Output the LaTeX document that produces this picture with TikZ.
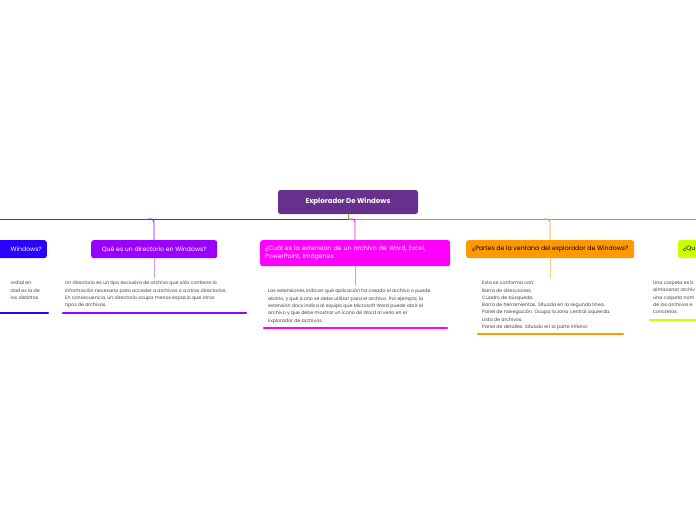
\documentclass[tikz,border=0pt]{standalone}
\usepackage{fontspec}
\setmainfont{Poppins}
\begin{document}
\begin{tikzpicture}[x=1pt,y=-1pt,
  hdr/.style={rounded corners=2.5pt,text=white,font=\fontsize{6.2}{8}\selectfont,inner xsep=5pt,anchor=north west,align=left},
  note/.style={anchor=north west,align=left,font=\fontsize{4.7}{7.3}\selectfont,text=black!75,inner sep=0pt},
  uline/.style={line width=2.2pt,line cap=round}]
\definecolor{cRoot}{HTML}{66308C}
\definecolor{cB}{HTML}{2A00FF}
\definecolor{cP}{HTML}{9900FF}
\definecolor{cM}{HTML}{FF00FF}
\definecolor{cO}{HTML}{FF9900}
\definecolor{cL}{HTML}{CCFF00}
\definecolor{cG}{HTML}{55E000}
\useasboundingbox (0,0) rectangle (696,520);
\clip (0,0) rectangle (696,520);
\node[hdr,fill=cRoot,minimum width=140pt,minimum height=24pt,anchor=center,font=\bfseries\fontsize{7}{8}\selectfont] (root) at (348,202) {Explorador De Windows};
\coordinate (hub) at (348,219);
\draw[cG,line width=1pt] (root.south) -- (hub) -- (696,219);
\draw[cP,line width=1pt] (hub) -- (0,219);
% branch 1
\node[hdr,fill=cB,minimum height=18pt,text width=80pt,anchor=north east,align=right] (b1) at (47,240) {Windows?};
\node[note,anchor=north east,align=left] (n1) at (40,281) {ordial en\\dad es la de\\ los distintos};
\draw[uline,cB] (-5,313) -- (48,313);
% branch 2
\draw[cP,line width=0.9pt,rounded corners=3pt] (148,219) -- (154,219) -- (154,240);
\node[hdr,fill=cP,minimum height=18pt,minimum width=126pt,align=center] (b2) at (91,240) {Qué es un directorio en Windows?};
\draw[cP!40,line width=0.9pt] (154,258) -- (154,278);
\node[note] (n2) at (65,281) {Un directorio es un tipo exclusivo de archivo que sólo contiene la\\información necesaria para acceder a archivos o a otros directorios.\\En consecuencia, un directorio ocupa menos espacio que otros\\tipos de archivos.};
\draw[uline,cP] (63,313) -- (246,313);
% branch 3
\draw[cM,line width=0.9pt,rounded corners=3pt] (348,219) -- (355,219) -- (355,240);
\node[hdr,fill=cM,minimum height=26pt,text width=180pt] (b3) at (260,240) {¿Cuál es la extensión de un archivo de Word, Excel,\\PowerPoint, Imágenes};
\draw[cM!50,line width=0.9pt] (355,266) -- (355,286);
\node[note] (n3) at (268,289) {Las extensiones indican qué aplicación ha creado el archivo o puede\\abrirlo, y qué icono se debe utilizar para el archivo. Por ejemplo, la\\extensión docx indica al equipo que Microsoft Word puede abrir el\\archivo y que debe mostrar un icono de Word al verlo en el\\Explorador de archivos.};
\draw[uline,cM] (264,328) -- (447,328);
% branch 4
\draw[cO,line width=0.9pt,rounded corners=3pt] (544,219) -- (550,219) -- (550,240);
\node[hdr,fill=cO,text=black,minimum height=18pt,minimum width=168pt,align=center] (b4) at (466,240) {¿Partes de la ventana del explorador de Windows?};
\draw[cO!50,line width=0.9pt] (550,258) -- (550,278);
\node[note] (n4) at (482,281) {Esta se conforma con:\\Barra de direcciones.\\Cuadro de búsqueda.\\Barra de herramientas. Situada en la segunda línea.\\Panel de navegación. Ocupa la zona central izquierda.\\Lista de archivos.\\Panel de detalles. Situado en la parte inferior.};
\draw[uline,cO] (478,334) -- (623,334);
% branch 5
\draw[cG,line width=0.9pt,rounded corners=3pt] (700,219) -- (700,240);
\fill[cL,rounded corners=2.5pt] (678,240) rectangle (720,258);
\node[anchor=west,inner sep=0pt,font=\fontsize{6.2}{8}\selectfont] (b5) at (683,249) {¿Qu};
\node[note] (n5) at (653,281) {Una carpeta es b\\almacenar archiv\\una carpeta nom\\de los archivos e\\concretos.};
\draw[uline,cL] (650,320) -- (700,320);
\end{tikzpicture}
\end{document}
